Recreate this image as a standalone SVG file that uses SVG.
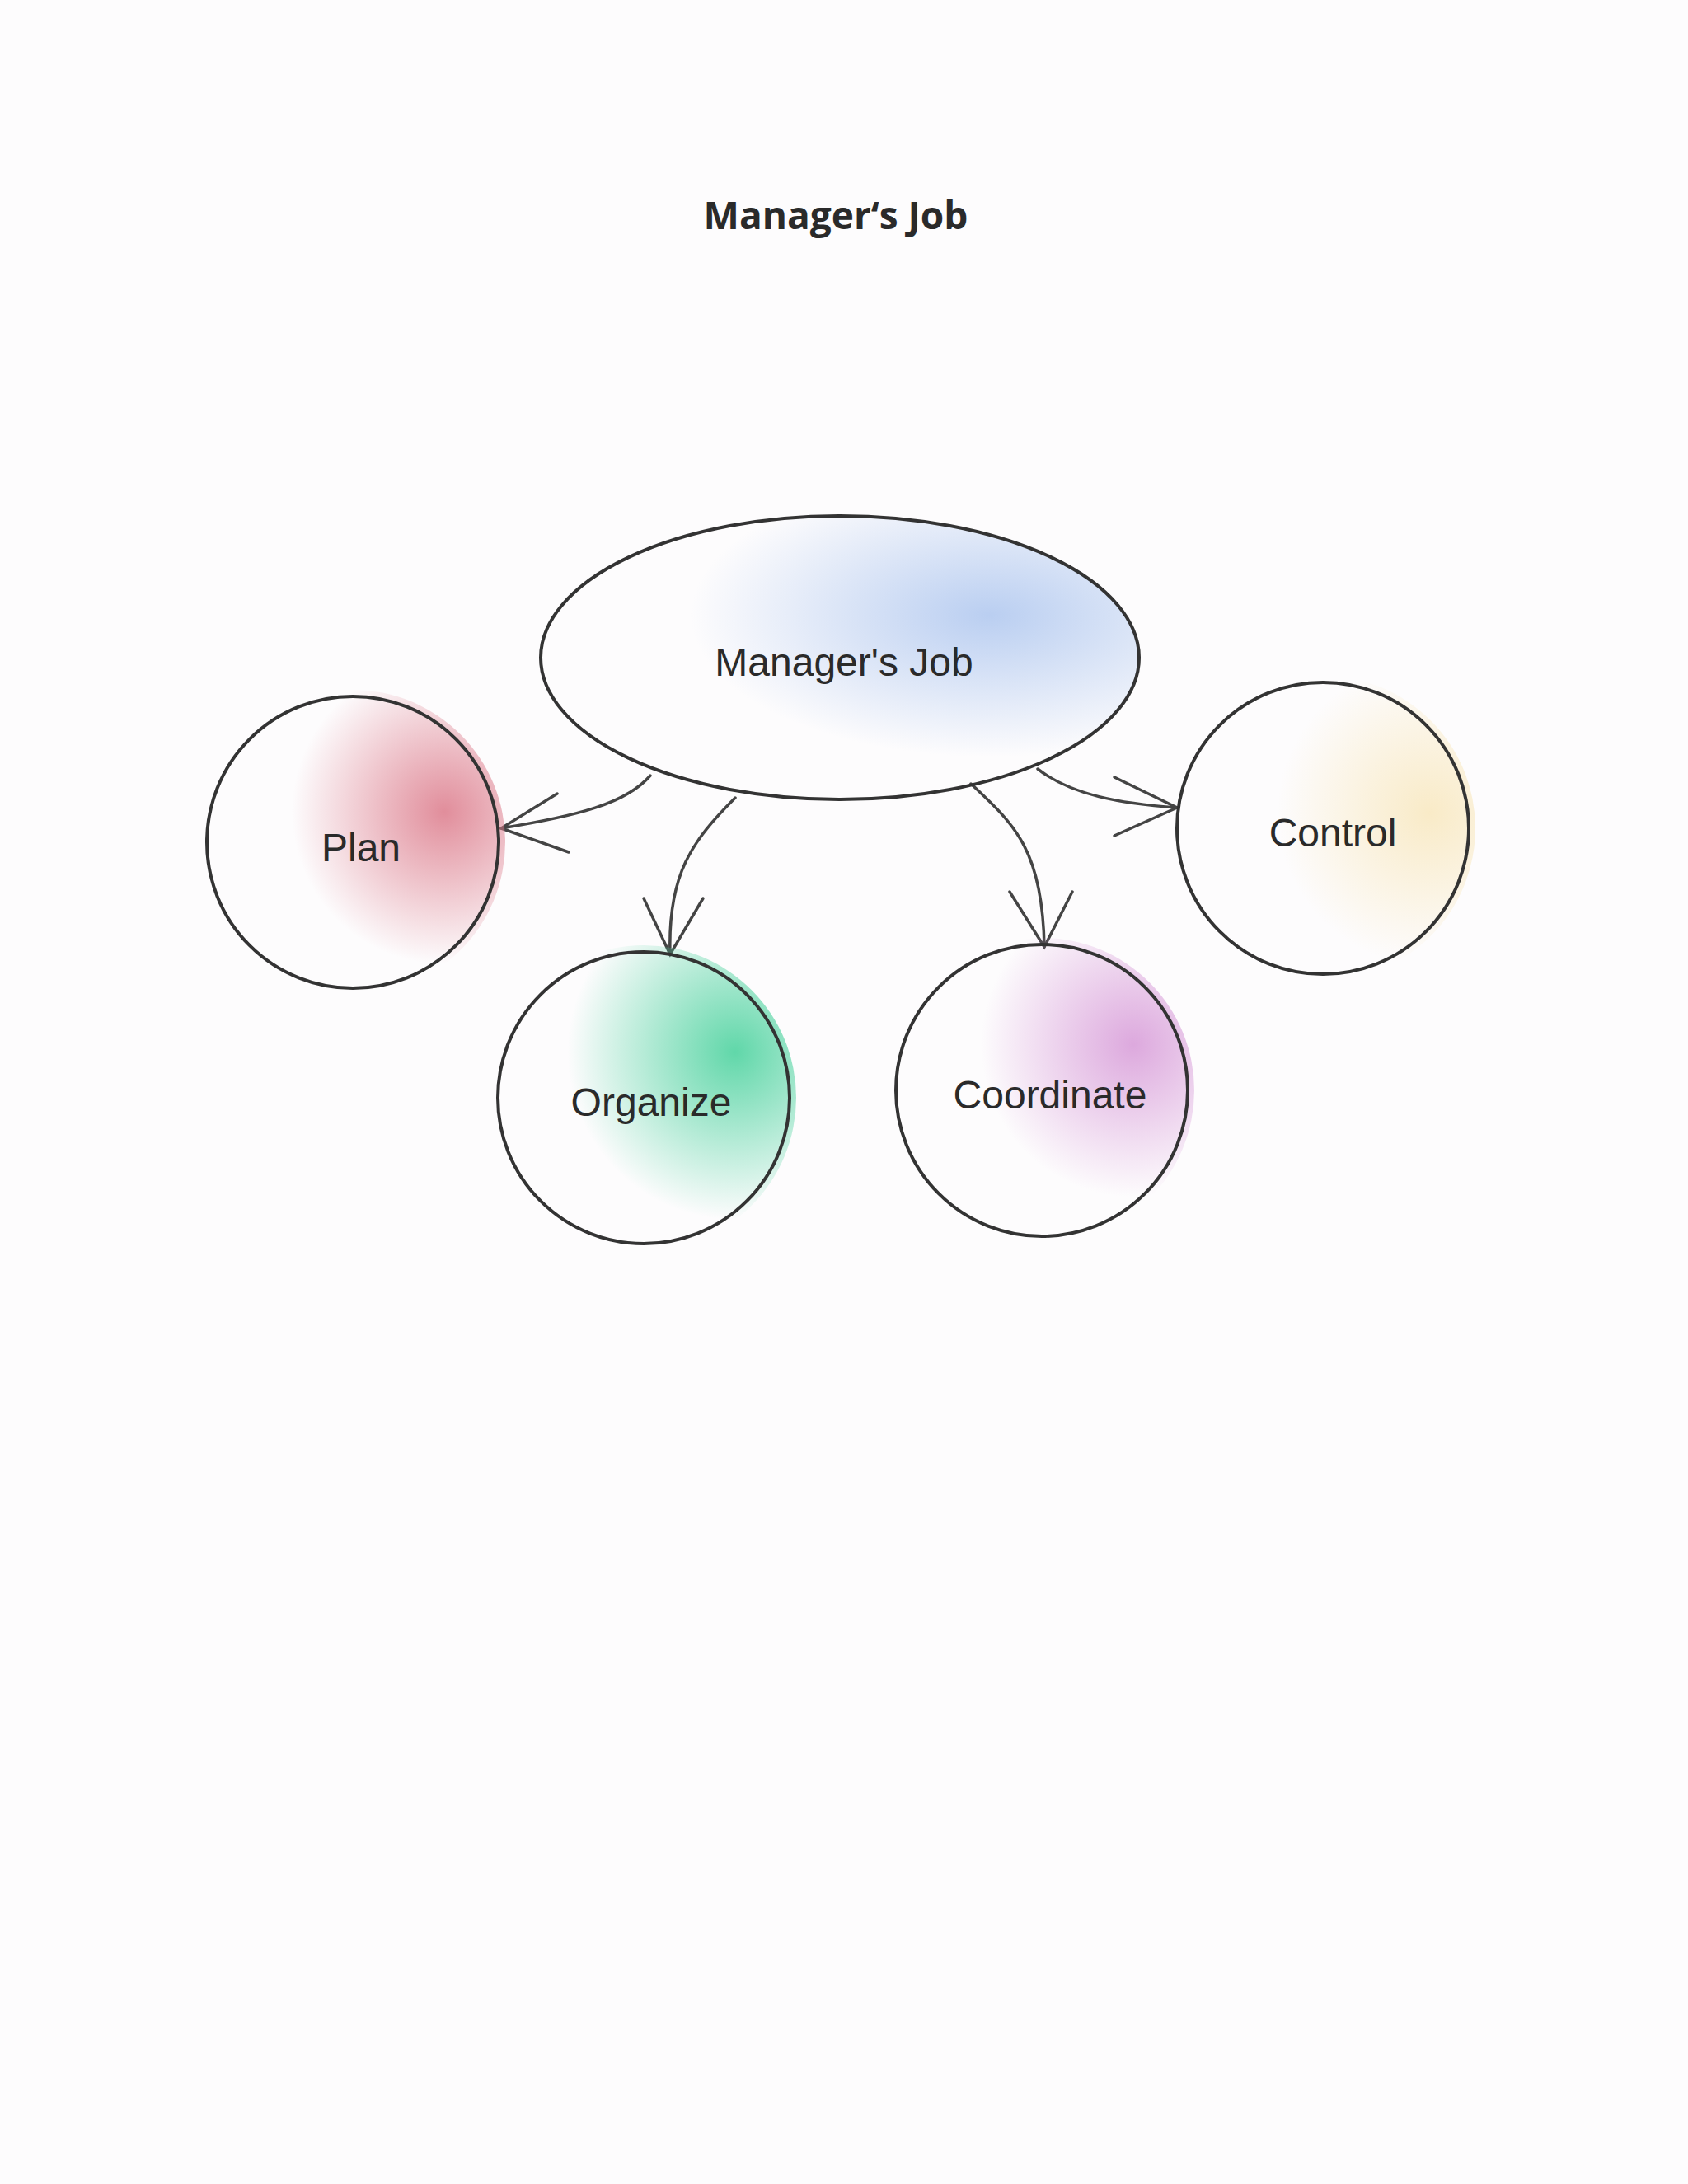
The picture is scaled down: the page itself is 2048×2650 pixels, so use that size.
<svg xmlns="http://www.w3.org/2000/svg" width="2048" height="2650" viewBox="0 0 2048 2650">
<style>
.n{fill:none;stroke:#333;stroke-width:4}
.t{font-family:"Liberation Sans",Arial,sans-serif;font-size:48px;fill:#2a2a2a;text-anchor:middle}
.c{fill:none;stroke:#444;stroke-width:3.5;stroke-linecap:round}
</style>
<defs>
<radialGradient id="gb" cx="0.75" cy="0.35" r="0.5"><stop offset="0" stop-color="#a9c3ee" stop-opacity="0.8"/><stop offset="1" stop-color="#a9c3ee" stop-opacity="0"/></radialGradient>
<radialGradient id="gr" cx="0.8" cy="0.4" r="0.5"><stop offset="0" stop-color="#dc7a8a" stop-opacity="0.85"/><stop offset="1" stop-color="#dc7a8a" stop-opacity="0"/></radialGradient>
<radialGradient id="gg" cx="0.8" cy="0.35" r="0.55"><stop offset="0" stop-color="#4fd3a0" stop-opacity="0.9"/><stop offset="1" stop-color="#4fd3a0" stop-opacity="0"/></radialGradient>
<radialGradient id="gp" cx="0.8" cy="0.35" r="0.5"><stop offset="0" stop-color="#d79ad8" stop-opacity="0.85"/><stop offset="1" stop-color="#d79ad8" stop-opacity="0"/></radialGradient>
<radialGradient id="gy" cx="0.85" cy="0.45" r="0.5"><stop offset="0" stop-color="#f7e3b0" stop-opacity="0.7"/><stop offset="1" stop-color="#f7e3b0" stop-opacity="0"/></radialGradient>
</defs>
<rect width="2048" height="2650" fill="#fdfcfd"/>
<text x="1014" y="278" class="t" style="font-weight:bold;font-family:'Open Sans','Liberation Sans',sans-serif;font-size:46px">Manager‘s Job</text>
<g id="connectors">
<path class="c" d="M789 941 C760 975 700 990 608 1005"/>
<path class="c" d="M676 963 L608 1005 L690 1034"/>
<path class="c" d="M892 968 C840 1020 810 1060 813 1158"/>
<path class="c" d="M781 1090 L813 1158 L853 1090"/>
<path class="c" d="M1178 951 C1230 1000 1265 1030 1267 1149"/>
<path class="c" d="M1225 1082 L1267 1149 L1301 1082"/>
<path class="c" d="M1259 933 C1300 965 1360 975 1428 980"/>
<path class="c" d="M1352 943 L1428 980 L1352 1014"/>
</g>
<g id="manager"><ellipse cx="1019" cy="798" rx="363" ry="172" fill="url(#gb)"/><ellipse cx="1019" cy="798" rx="363" ry="172" class="n"/><text x="1024" y="820" class="t">Manager's Job</text></g>
<g id="plan"><circle cx="428" cy="1022" r="185" fill="url(#gr)"/><circle cx="428" cy="1022" r="177" class="n"/><text x="438" y="1045" class="t">Plan</text></g>
<g id="organize"><circle cx="781" cy="1332" r="185" fill="url(#gg)"/><circle cx="781" cy="1332" r="177" class="n"/><text x="790" y="1354" class="t">Organize</text></g>
<g id="coordinate"><circle cx="1264" cy="1323" r="185" fill="url(#gp)"/><circle cx="1264" cy="1323" r="177" class="n"/><text x="1274" y="1345" class="t">Coordinate</text></g>
<g id="control"><circle cx="1605" cy="1005" r="185" fill="url(#gy)"/><circle cx="1605" cy="1005" r="177" class="n"/><text x="1617" y="1027" class="t">Control</text></g>
</svg>
